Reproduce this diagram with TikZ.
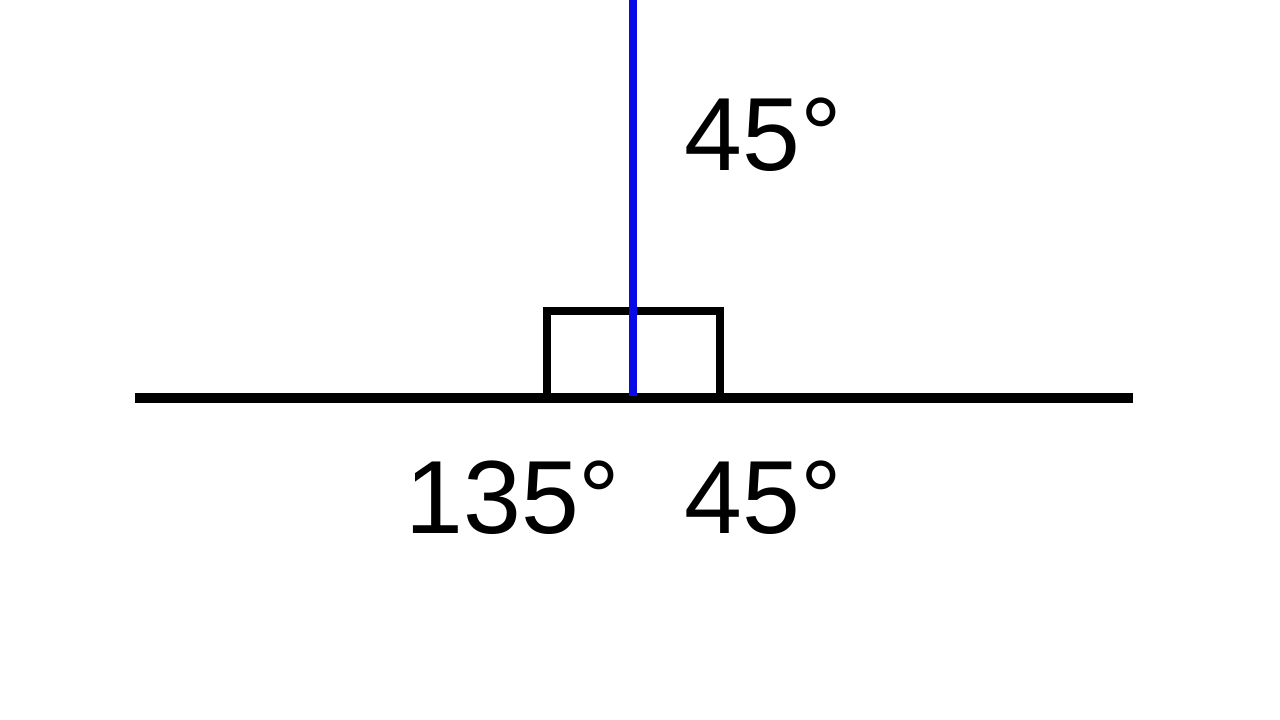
\documentclass[tikz,border=0pt]{standalone}
\usepackage{fontspec}
\setmainfont{Liberation Sans}
\definecolor{vblue}{RGB}{10,10,230}
\begin{document}
\begin{tikzpicture}[x=1pt,y=-1pt,
  lbl/.style={inner sep=0pt, font=\fontsize{104}{124}\selectfont, text=black},
  base/.style={line width=10pt, black},
  perp/.style={line width=8pt, vblue},
  rmark/.style={line width=8pt, black}]
\useasboundingbox[fill=white] (0,0) rectangle (1280,720);
\coordinate (L) at (135,398);
\coordinate (R) at (1133,398);
\coordinate (F) at (633,396);
\coordinate (T) at (633,0);
\coordinate (m1) at (547,398);
\coordinate (m2) at (547,311);
\coordinate (m3) at (720,311);
\coordinate (m4) at (720,398);
\draw[rmark] (m1) -- (m2) -- (m3) -- (m4);
\draw[base] (L) -- (R);
\draw[perp] (F) -- (T);
\node[lbl] (a) at (763,135) {45°};
\node[lbl] (b) at (513,498) {135°};
\node[lbl] (c) at (763,498) {45°};
\end{tikzpicture}
\end{document}
